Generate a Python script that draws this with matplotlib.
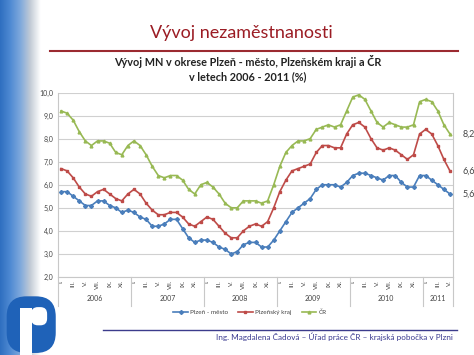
import numpy as np
import matplotlib.pyplot as plt
from matplotlib.patches import FancyBboxPatch, Rectangle
from matplotlib.ticker import FuncFormatter
import matplotlib.transforms as mtransforms

plt.rcParams['font.family'] = ['Lato', 'DejaVu Sans']

# monthly data Jan 2006 - May 2011
years = ['2006', '2007', '2008', '2009', '2010', '2011']
months_per_year = [12, 12, 12, 12, 12, 5]
month_names = ['I.', 'II.', 'III.', 'IV.', 'V.', 'VI.', 'VII.', 'VIII.', 'IX.', 'X.', 'XI.', 'XII.']

plzen_mesto = [5.7, 5.7, 5.5, 5.3, 5.1, 5.1, 5.3, 5.3, 5.1, 5.0, 4.8, 4.9,
               4.8, 4.6, 4.5, 4.2, 4.2, 4.3, 4.5, 4.5, 4.1, 3.7, 3.5, 3.6,
               3.6, 3.5, 3.3, 3.2, 3.0, 3.1, 3.4, 3.5, 3.5, 3.3, 3.3, 3.6,
               4.0, 4.4, 4.8, 5.0, 5.2, 5.4, 5.8, 6.0, 6.0, 6.0, 5.9, 6.1,
               6.4, 6.5, 6.5, 6.4, 6.3, 6.2, 6.4, 6.4, 6.1, 5.9, 5.9, 6.4,
               6.4, 6.2, 6.0, 5.8, 5.6]
plzensky_kraj = [6.7, 6.6, 6.3, 5.9, 5.6, 5.5, 5.7, 5.8, 5.6, 5.4, 5.3, 5.6,
                 5.8, 5.6, 5.2, 4.9, 4.7, 4.7, 4.8, 4.8, 4.6, 4.3, 4.2, 4.4,
                 4.6, 4.5, 4.2, 3.9, 3.7, 3.7, 4.0, 4.2, 4.3, 4.2, 4.4, 5.0,
                 5.7, 6.2, 6.6, 6.7, 6.8, 6.9, 7.4, 7.7, 7.7, 7.6, 7.6, 8.2,
                 8.6, 8.7, 8.5, 8.0, 7.6, 7.5, 7.6, 7.5, 7.3, 7.1, 7.3, 8.2,
                 8.4, 8.2, 7.7, 7.1, 6.6]
cr = [9.2, 9.1, 8.8, 8.3, 7.9, 7.7, 7.9, 7.9, 7.8, 7.4, 7.3, 7.7,
      7.9, 7.7, 7.3, 6.8, 6.4, 6.3, 6.4, 6.4, 6.2, 5.8, 5.6, 6.0,
      6.1, 5.9, 5.6, 5.2, 5.0, 5.0, 5.3, 5.3, 5.3, 5.2, 5.3, 6.0,
      6.8, 7.4, 7.7, 7.9, 7.9, 8.0, 8.4, 8.5, 8.6, 8.5, 8.6, 9.2,
      9.8, 9.9, 9.7, 9.2, 8.7, 8.5, 8.7, 8.6, 8.5, 8.5, 8.6, 9.6,
      9.7, 9.6, 9.2, 8.6, 8.2]

series = [('Plzeň - město', plzen_mesto, '#4a7ebb', 'D'),
          ('Plzeňský kraj', plzensky_kraj, '#be4b48', 's'),
          ('ČR', cr, '#98b954', '^')]

fig = plt.figure(figsize=(4.74, 3.55), dpi=100)
fig.patch.set_facecolor('white')

# left decoration band
grad = np.linspace(0, 1, 64).reshape(1, -1)
bg = fig.add_axes([0, 0, 0.085, 1])
bg.imshow(grad, aspect='auto', cmap=plt.matplotlib.colors.LinearSegmentedColormap.from_list(
    'band', ['#2f6fc0', '#4f8ad3', '#7fa9dc', '#c4ccd6', '#ffffff']), extent=[0, 1, 0, 1])
bg.axis('off')

# logo
lg = fig.add_axes([0.0, 0.0, 0.14, 0.19])
lg.set_xlim(0, 1)
lg.set_ylim(0, 1)
lg.axis('off')
lg.add_patch(FancyBboxPatch((0.12, 0.05), 0.7, 0.8, boxstyle='round,pad=0.02,rounding_size=0.3',
                            fc='#1f62b8', ec='none'))
lg.add_patch(Rectangle((0.3, 0.0), 0.18, 0.7, fc='white', ec='none'))
lg.add_patch(FancyBboxPatch((0.48, 0.45), 0.22, 0.25, boxstyle='round,pad=0.01,rounding_size=0.1',
                            fc='white', ec='none'))

# slide title
fig.text(241 / 474, 1 - 33 / 355, 'Vývoj nezaměstnanosti', ha='center', va='center',
         fontsize=13, color='#9b1c24')
fig.add_artist(plt.Line2D([50 / 474, 458 / 474], [1 - 51 / 355] * 2, color='#9b2a30', lw=1.5))

# chart title
fig.text(248 / 474, 1 - 62 / 355, 'Vývoj MN v okrese Plzeň - město, Plzeňském kraji a ČR',
         ha='center', va='center', fontsize=7.8, fontweight='bold', color='#222222')
fig.text(248 / 474, 1 - 77 / 355, 'v letech 2006 - 2011 (%)',
         ha='center', va='center', fontsize=7.8, fontweight='bold', color='#222222')

ax = fig.add_axes([58 / 474, 1 - 277 / 355, (453 - 58) / 474, (277 - 92.5) / 355])
n = len(cr)
x = np.arange(n)
for name, vals, col, mk in series:
    ax.plot(x, vals, color=col, lw=1.2, marker=mk, markersize=2.0, label=name)

ax.set_xlim(-0.5, n - 0.5)
ax.set_ylim(2, 10)
ax.set_yticks(np.arange(2, 10.01, 1))
ax.yaxis.set_major_formatter(FuncFormatter(lambda v, p: f'{v:.1f}'.replace('.', ',')))
ax.tick_params(axis='y', labelsize=5, colors='#444444', length=0, pad=3)
ax.grid(axis='y', color='#d0d0d0', lw=0.8)
ax.set_axisbelow(True)
for s in ['left', 'right', 'bottom']:
    ax.spines[s].set_color('#c8c8c8')
ax.spines['top'].set_visible(False)

# month labels
ticks, labels = [], []
pos = 0
for ny in months_per_year:
    for m in range(ny):
        if m % 2 == 0:
            ticks.append(pos + m)
            labels.append(month_names[m])
    pos += ny
ax.set_xticks(ticks)
ax.set_xticklabels(labels, rotation=90, fontsize=4.5, color='#444444')
ax.tick_params(axis='x', length=0, pad=2)

# year labels and dividers
trans = mtransforms.blended_transform_factory(ax.transData, ax.transAxes)
pos = 0
for yr, ny in zip(years, months_per_year):
    ax.text(pos + ny / 2 - 0.5, -0.115, yr, transform=trans, ha='center', va='center',
            fontsize=5, color='#444444')
    ax.plot([pos - 0.5] * 2, [0, -0.155], transform=trans, color='#c8c8c8', lw=0.8, clip_on=False)
    pos += ny
ax.plot([n - 0.5] * 2, [0, -0.155], transform=trans, color='#c8c8c8', lw=0.8, clip_on=False)

# end labels
for name, vals, col, mk in series:
    ax.annotate(f'{vals[-1]:.1f}'.replace('.', ','), (n - 1, vals[-1]), xytext=(9, 0),
                textcoords='offset points', va='center', ha='left', fontsize=6.5,
                color='#444444', annotation_clip=False)

fig.legend(loc='center', bbox_to_anchor=(250 / 474, 1 - 312 / 355), ncol=3, frameon=False,
           fontsize=4.6, handlelength=2.2, columnspacing=1.6, handletextpad=0.4,
           labelcolor='#444444')

# footer
fig.add_artist(plt.Line2D([103 / 474, 457 / 474], [1 - 330 / 355] * 2, color='#3c3c8c', lw=1))
fig.text(453 / 474, 1 - 336.5 / 355,
         'Ing. Magdalena Čadová – Úřad práce ČR – krajská pobočka v Plzni',
         ha='right', va='center', fontsize=5.9, color='#3a3a90')

fig.savefig('out.png', dpi=100)
